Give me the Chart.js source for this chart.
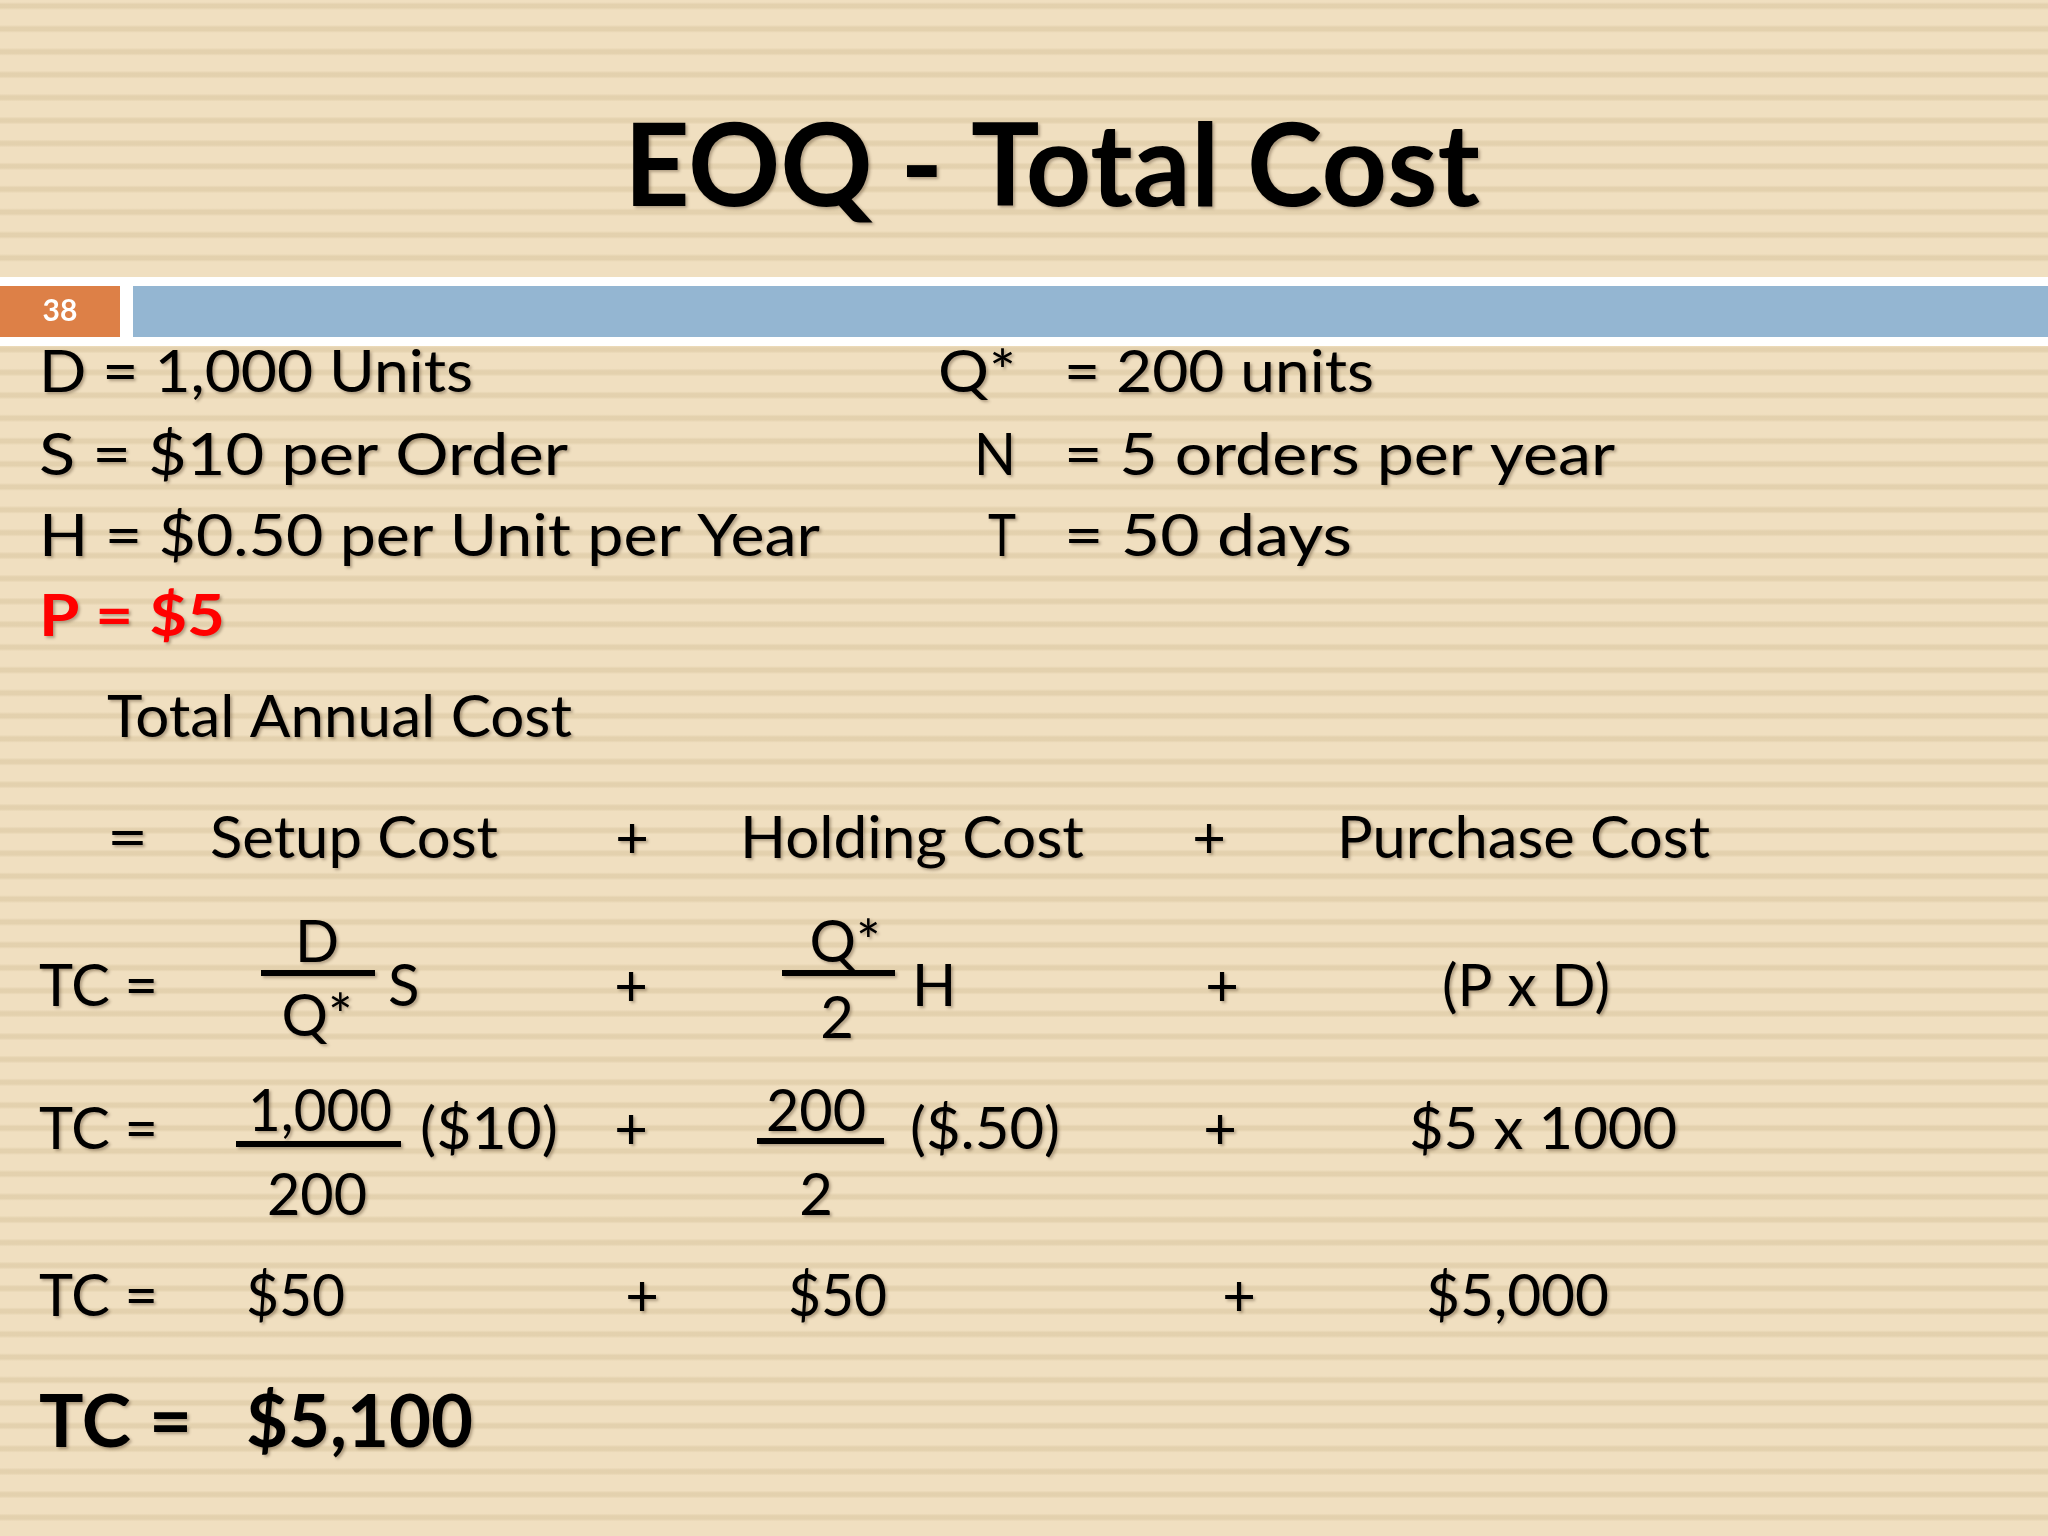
<!DOCTYPE html>
<html>
<head>
<meta charset="utf-8">
<script src="https://cdn.jsdelivr.net/npm/chart.js@4.4.1/dist/chart.umd.min.js"></script>
<style>
  html, body { margin: 0; padding: 0; background: #efdfbf; }
  #slide { display: block; }
</style>
</head>
<body>
<canvas id="slide" width="2048" height="1536"></canvas>
<script>
// inputs of the EOQ problem
var inputNames = ['D', 'S', 'H', 'P'];
var inputValues = [1000, 10, 0.5, 5];
var inputUnits = ['Units', 'per Order', 'per Unit per Year', ''];

// results
var resultNames = ['Q*', 'N', 'T'];
var resultValues = [200, 5, 50];
var resultUnits = ['units', 'orders per year', 'days'];

// cost parts
var costNames = ['Setup Cost', 'Holding Cost', 'Purchase Cost'];
var costValues = [50, 50, 5000];
var totalCost = 5100;

var slideNo = '38';
var slideTitle = 'EOQ - Total Cost';

function fmt(v) { return v.toLocaleString('en-US'); }

var FONT = 'Lato, "Noto Sans", sans-serif';

// text items: [text, x, baseline, size, weight, align, width, color]
function buildItems() {
  var it = [];
  var D = fmt(inputValues[0]), S = inputValues[1], H = inputValues[2], P = inputValues[3];
  var Q = resultValues[0];
  it.push([inputNames[0] + ' = ' + D + ' ' + inputUnits[0], 39, 392, 58, 400, 'left', 434]);
  it.push([inputNames[1] + ' = $' + S + ' ' + inputUnits[1], 39, 475, 58, 400, 'left', 529]);
  it.push([inputNames[2] + ' = $' + H.toFixed(2) + ' ' + inputUnits[2], 39, 556, 58, 400, 'left', 781]);
  it.push([inputNames[3] + ' = $' + P, 39, 636, 58, 700, 'left', 186, '#ff0000']);

  it.push([resultNames[0], 938, 392, 58, 400, 'left', 78]);
  it.push([resultNames[1], 1016, 475, 58, 400, 'right', 42]);
  it.push([resultNames[2], 1016, 556, 58, 400, 'right', 28]);
  it.push(['= ' + resultValues[0] + ' ' + resultUnits[0], 1064, 392, 58, 400, 'left', 310]);
  it.push(['= ' + resultValues[1] + ' ' + resultUnits[1], 1064, 475, 58, 400, 'left', 551]);
  it.push(['= ' + resultValues[2] + ' ' + resultUnits[2], 1064, 556, 58, 400, 'left', 288]);

  it.push(['Total Annual Cost', 107, 737, 58, 400, 'left', 465]);
  it.push(['=', 107, 858, 58, 400, 'left', 41]);
  it.push([costNames[0], 210, 858, 58, 400, 'left', 288]);
  it.push(['+', 632, 858, 58, 400, 'center']);
  it.push([costNames[1], 740, 858, 58, 400, 'left', 344]);
  it.push(['+', 1209, 858, 58, 400, 'center']);
  it.push([costNames[2], 1337, 858, 58, 400, 'left', 373]);

  // symbolic row
  it.push(['TC =', 39, 1006, 58, 400, 'left', 119]);
  it.push(['D', 317, 962, 58, 400, 'center']);
  it.push(['Q*', 317, 1036, 58, 400, 'center']);
  it.push(['S', 388, 1006, 58, 400, 'left']);
  it.push(['+', 631, 1006, 58, 400, 'center']);
  it.push(['Q*', 845, 962, 58, 400, 'center']);
  it.push(['2', 837, 1038, 58, 400, 'center']);
  it.push(['H', 912, 1006, 58, 400, 'left']);
  it.push(['+', 1222, 1006, 58, 400, 'center']);
  it.push(['(P x D)', 1442, 1006, 58, 400, 'left', 168]);

  // numeric row
  it.push(['TC =', 39, 1149, 58, 400, 'left', 119]);
  it.push([D, 320, 1131, 58, 400, 'center', 144]);
  it.push([String(Q), 317, 1215, 58, 400, 'center', 100]);
  it.push(['($' + S + ')', 420, 1149, 58, 400, 'left', 138]);
  it.push(['+', 631, 1149, 58, 400, 'center']);
  it.push([String(Q), 816, 1131, 58, 400, 'center', 100]);
  it.push(['2', 816, 1215, 58, 400, 'center']);
  it.push(['($' + String(H.toFixed(2)).replace(/^0/, '') + ')', 910, 1149, 58, 400, 'left', 150]);
  it.push(['+', 1220, 1149, 58, 400, 'center']);
  it.push(['$' + P + ' x ' + inputValues[0], 1409, 1149, 58, 400, 'left', 268]);

  // result row
  it.push(['TC =', 39, 1316, 58, 400, 'left', 119]);
  it.push(['$' + costValues[0], 246, 1316, 58, 400, 'left', 99]);
  it.push(['+', 642, 1316, 58, 400, 'center']);
  it.push(['$' + costValues[1], 788, 1316, 58, 400, 'left', 99]);
  it.push(['+', 1239, 1316, 58, 400, 'center']);
  it.push(['$' + fmt(costValues[2]), 1426, 1316, 58, 400, 'left', 183]);

  it.push(['TC =', 39, 1447, 72, 700, 'left', 153]);
  it.push(['$' + fmt(totalCost), 246, 1447, 72, 700, 'left', 227]);
  return it;
}

// fraction bars: [x0, x1, y]
var fractionBars = [[261, 375, 973], [782, 895, 973], [236, 401, 1144], [757, 884, 1141]];

function drawText(ctx, sx, sy, item) {
  var txt = item[0], size = item[3], weight = item[4], align = item[5], w = item[6];
  ctx.font = weight + ' ' + size + 'px ' + FONT;
  var m = ctx.measureText(txt).width;
  var k = w ? w / m : 1;
  var x = sx(item[1]), y = sy(item[2]);
  var drawn = m * k;
  var left = align === 'left' ? x : (align === 'right' ? x - drawn : x - drawn / 2);
  ctx.save();
  ctx.fillStyle = item[7] || '#000';
  ctx.textAlign = 'left';
  ctx.textBaseline = 'alphabetic';
  ctx.translate(left, y);
  ctx.scale(k, 1);
  ctx.fillText(txt, 0, 0);
  ctx.restore();
}

var slidePlugin = {
  id: 'slide',
  beforeDraw: function (chart) {
    var ctx = chart.ctx;
    var W = chart.width, Hh = chart.height;
    ctx.save();
    ctx.fillStyle = '#f0dfc0';
    ctx.fillRect(0, 0, W, Hh);
    var period = 22.9;
    for (var y = 2; y < Hh; y += period) {
      var g = ctx.createLinearGradient(0, y, 0, y + 8);
      g.addColorStop(0, 'rgba(212,192,152,0)');
      g.addColorStop(0.3, 'rgba(212,192,152,0.45)');
      g.addColorStop(0.7, 'rgba(212,192,152,0.45)');
      g.addColorStop(1, 'rgba(212,192,152,0)');
      ctx.fillStyle = g;
      ctx.fillRect(0, y, W, 8);
    }
    // header band
    ctx.fillStyle = '#ffffff';
    ctx.fillRect(0, 277, W, 69);
    ctx.fillStyle = '#dd8047';
    ctx.fillRect(0, 286, 120, 51);
    ctx.fillStyle = '#94b6d2';
    ctx.fillRect(133, 286, W - 133, 51);
    ctx.fillStyle = '#ffffff';
    ctx.font = 'bold 30px ' + FONT;
    ctx.textAlign = 'center';
    ctx.textBaseline = 'alphabetic';
    ctx.fillText(slideNo, 60, 321);
    ctx.restore();
  },
  afterDraw: function (chart) {
    var ctx = chart.ctx;
    var xs = chart.scales.x, ys = chart.scales.y;
    var sx = function (v) { return xs.getPixelForValue(v); };
    var sy = function (v) { return ys.getPixelForValue(v); };
    ctx.save();
    ctx.shadowColor = 'rgba(60,40,20,0.35)';
    ctx.shadowOffsetX = 2;
    ctx.shadowOffsetY = 2;
    ctx.shadowBlur = 3;
    drawText(ctx, sx, sy, [slideTitle, 1052, 206, 114, 700, 'center', 856]);
    buildItems().forEach(function (item) { drawText(ctx, sx, sy, item); });
    ctx.fillStyle = '#000';
    fractionBars.forEach(function (b) {
      ctx.fillRect(sx(b[0]), sy(b[2]) - 3, sx(b[1]) - sx(b[0]), 6);
    });
    ctx.restore();
  }
};

new Chart(document.getElementById('slide'), {
  type: 'scatter',
  data: { datasets: [] },
  options: {
    responsive: false,
    animation: false,
    devicePixelRatio: 1,
    layout: { padding: 0 },
    plugins: { legend: { display: false }, tooltip: { enabled: false } },
    scales: {
      x: { type: 'linear', display: false, min: 0, max: 2048 },
      y: { type: 'linear', display: false, min: 0, max: 1536, reverse: true }
    }
  },
  plugins: [slidePlugin]
});
</script>
</body>
</html>
